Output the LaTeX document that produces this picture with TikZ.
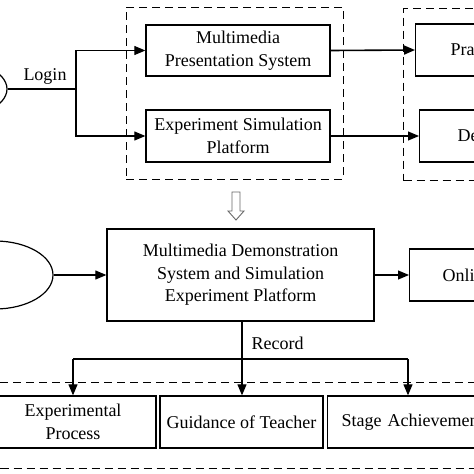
\documentclass[tikz,border=0pt]{standalone}
\usepackage{fontspec}
\setmainfont{Liberation Serif}
\usetikzlibrary{arrows.meta,shapes.geometric}
\begin{document}
\begin{tikzpicture}[x=1pt,y=-1pt,
  every node/.style={font=\fontsize{18}{22.5}\selectfont},
  box/.style={draw,line width=1.3pt,inner sep=0pt,align=center},
  grp/.style={draw,line width=1pt,dash pattern=on 8pt off 5pt,inner sep=0pt},
  conn/.style={line width=1.1pt,-{Triangle[length=11pt,width=9pt]}},
  plain/.style={line width=1.1pt},
  oval/.style={draw,ellipse,line width=1.2pt,inner sep=0pt},
  hollow/.style={draw=black!60,line width=0.9pt,fill=white}]
\useasboundingbox (0,0) rectangle (474,474);
\clip (0,0) rectangle (474,474);
% top row
\node[grp,minimum width=217pt,minimum height=172pt] (g1) at (234.5,93) {};
\node[grp,anchor=north west,minimum width=150pt,minimum height=172pt] (g2) at (403,8) {};
\node[box,minimum width=184pt,minimum height=51pt] (mps) at (238,50.5) {Multimedia\\Presentation System};
\node[box,minimum width=184pt,minimum height=52pt] (esp) at (238,136) {Experiment Simulation\\Platform};
\node[box,anchor=west,minimum height=52pt,inner xsep=35pt,text width=80pt,align=left] (pra) at (415,50) {Pra};
\node[box,anchor=west,minimum height=52pt,inner xsep=38pt,text width=80pt,align=left] (de) at (419,136) {De};
\node[oval,minimum width=120pt,minimum height=60pt] (e1) at (-53,89) {};
\node (login) at (45,76) {Login};
\coordinate (split) at (76,89);
\draw[plain] (e1.east) -- (split);
\draw[conn] (split) |- (mps.west);
\draw[conn] (split) |- (esp.west);
\draw[conn,line width=1.6pt] (mps.east) -- (pra.west);
\draw[conn] (esp.east) -- (de.west);
% hollow arrow
\draw[hollow] (232,192) -- (240,192) -- (240,211) -- (244,211) -- (236,220) -- (228,211) -- (232,211) -- cycle;
% middle row
\node[oval,minimum width=116pt,minimum height=68pt] (e2) at (-5,275) {};
\node[box,minimum width=267pt,minimum height=92pt] (big) at (240.5,275) {Multimedia Demonstration\\System and Simulation\\Experiment Platform};
\node[box,anchor=west,minimum height=52pt,inner xsep=33pt,text width=80pt,align=left] (onli) at (409,275) {Onli};
\draw[conn] (e2.east) -- (big.west);
\draw[conn] (big.east) -- (onli.west);
% bottom
\node[grp,anchor=north west,minimum width=500pt,minimum height=86pt] (g3) at (-13,382) {};
\node[box,minimum width=166pt,minimum height=52pt] (exp) at (73,422) {Experimental\\Process};
\node[box,minimum width=163pt,minimum height=52pt] (gui) at (241.5,422) {Guidance of Teacher};
\node[box,anchor=west,minimum height=52pt,inner xsep=14pt,text width=150pt,align=left] (stage) at (327,422) {Stage Achievemen};
\coordinate (rec) at (242,359);
\coordinate (recR) at (408,359);
\draw[plain] (big.south -| rec) -- (rec);
\node[anchor=west] (reclbl) at (248,343) {Record};
\draw[plain] (exp.north |- rec) -- (recR);
\draw[conn] (exp.north |- rec) -- (exp.north);
\draw[conn] (rec) -- (rec |- gui.north);
\draw[conn] (recR) -- (recR |- stage.north);
\end{tikzpicture}
\end{document}
